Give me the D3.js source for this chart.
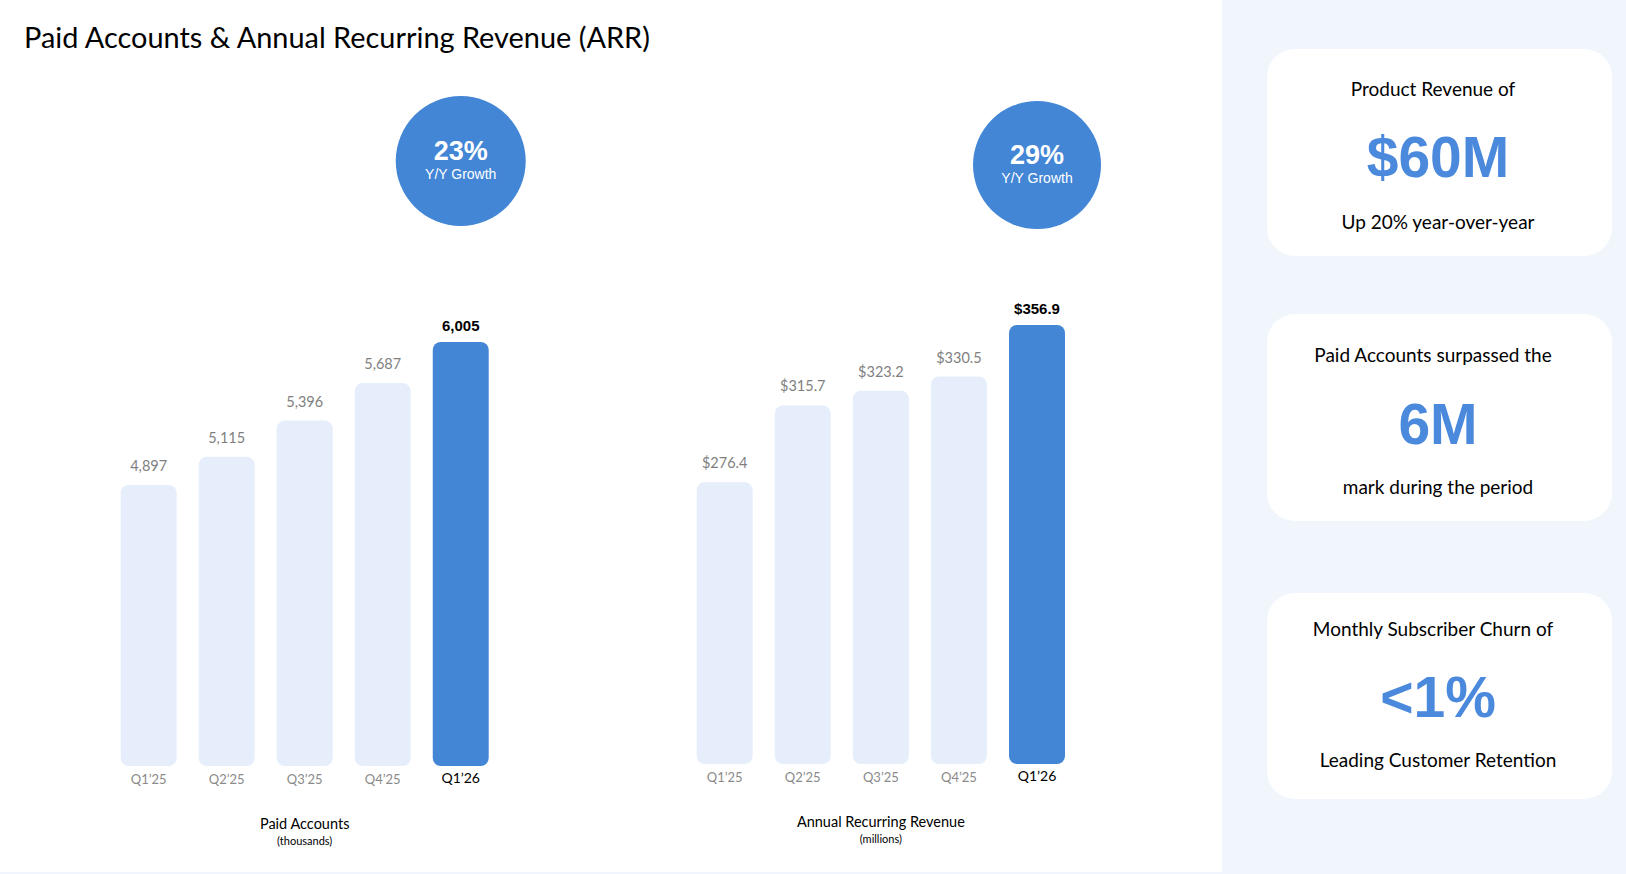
<!DOCTYPE html>
<html>
<head>
<meta charset="utf-8">
<script src="https://cdn.jsdelivr.net/npm/d3@7"></script>
<style>
  body { margin: 0; background: #fff; }
  svg { display: block; }
</style>
</head>
<body>
<div id="chart"></div>
<script>
// data
var quarters = ["Q1’25", "Q2’25", "Q3’25", "Q4’25", "Q1’26"];
var paidAccounts = [4897, 5115, 5396, 5687, 6005];
var arrValues = [276.4, 315.7, 323.2, 330.5, 356.9];
var growthLabels = ["23%", "29%"];
var chartTitles = ["Paid Accounts", "Annual Recurring Revenue"];
var chartUnits = ["(thousands)", "(millions)"];
var cardTitles = ["Product Revenue of", "Paid Accounts surpassed the", "Monthly Subscriber Churn of"];
var cardHighlights = ["$60M", "6M", "<1%"];
var cardNotes = ["Up 20% year-over-year", "mark during the period", "Leading Customer Retention"];

var W = 1626, H = 874;
var blue = "#4386d6", lightBlue = "#e5eefa", panelBg = "#f1f6fd";
var sans = "Lato, 'Open Sans', sans-serif";
var arial = "'Liberation Sans', Arial, sans-serif";

var svg = d3.select("#chart").append("svg")
    .attr("width", W)
    .attr("height", H);

// right side panel + bottom strip
svg.append("rect").attr("x", 1222).attr("y", 0).attr("width", W - 1222).attr("height", H).attr("fill", panelBg);
svg.append("rect").attr("x", 0).attr("y", 872).attr("width", W).attr("height", 2).attr("fill", panelBg);

svg.append("text")
    .attr("x", 24).attr("y", 48)
    .style("font-family", sans).style("font-size", "28.9px")
    .style("fill", "#000")
    .text("Paid Accounts & Annual Recurring Revenue (ARR)");

// one bar chart per metric
var charts = [
    { values: paidAccounts, fmt: d3.format(","), range: [120.7, 488.7], bottom: 766, domain: [2720, 6005], top: 342,
      circleY: 161, r: 65 },
    { values: arrValues, fmt: function (d) { return "$" + d3.format(".1f")(d); }, range: [696.7, 1065], bottom: 764, domain: [132, 356.9], top: 325,
      circleY: 165, r: 64 }
];

charts.forEach(function (c, ci) {
    var x = d3.scaleBand()
        .domain(quarters)
        .range(c.range)
        .paddingInner(0.283)
        .paddingOuter(0);

    var y = d3.scaleLinear()
        .domain(c.domain)
        .range([c.bottom, c.top]);

    var g = svg.append("g");
    var last = quarters.length - 1;

    g.selectAll("rect.bar")
        .data(c.values).enter()
        .append("rect")
        .attr("class", "bar")
        .attr("x", function (d, i) { return x(quarters[i]); })
        .attr("y", function (d) { return y(d); })
        .attr("width", x.bandwidth())
        .attr("height", function (d) { return c.bottom - y(d); })
        .attr("rx", 8)
        .attr("fill", function (d, i) { return i == last ? blue : lightBlue; });

    // value labels
    g.selectAll("text.val")
        .data(c.values).enter()
        .append("text")
        .attr("class", "val")
        .attr("x", function (d, i) { return x(quarters[i]) + x.bandwidth() / 2; })
        .attr("y", function (d, i) { return y(d) - (i == last ? 11 : 14); })
        .attr("text-anchor", "middle")
        .style("font-family", function (d, i) { return i == last ? arial : sans; })
        .style("font-weight", function (d, i) { return i == last ? "bold" : "normal"; })
        .style("font-size", function (d, i) { return i == last ? "15px" : "14.5px"; })
        .style("fill", function (d, i) { return i == last ? "#000" : "#7f7f7f"; })
        .text(function (d) { return c.fmt(d); });

    // quarter labels
    g.selectAll("text.cat")
        .data(quarters).enter()
        .append("text")
        .attr("class", "cat")
        .attr("x", function (d) { return x(d) + x.bandwidth() / 2; })
        .attr("y", function (d, i) { return c.bottom + (i == last ? 16.5 : 18); })
        .attr("text-anchor", "middle")
        .style("font-family", sans)
        .style("font-size", function (d, i) { return i == last ? "14px" : "13px"; })
        .style("fill", function (d, i) { return i == last ? "#000" : "#8a8a8a"; })
        .text(function (d) { return d; });

    var cx = (c.range[0] + c.range[1]) / 2;
    g.append("text")
        .attr("x", cx).attr("y", c.bottom + 63)
        .attr("text-anchor", "middle")
        .style("font-family", sans).style("font-size", "14.5px").style("fill", "#000")
        .text(chartTitles[ci]);
    g.append("text")
        .attr("x", cx).attr("y", c.bottom + 79)
        .attr("text-anchor", "middle")
        .style("font-family", sans).style("font-size", "11px").style("fill", "#000")
        .text(chartUnits[ci]);

    // growth bubble over the latest bar
    var bx = x(quarters[last]) + x.bandwidth() / 2;
    g.append("circle")
        .attr("cx", bx).attr("cy", c.circleY).attr("r", c.r)
        .attr("fill", blue);
    g.append("text")
        .attr("x", bx).attr("y", c.circleY - 1)
        .attr("text-anchor", "middle")
        .style("font-family", arial).style("font-weight", "bold").style("font-size", "27px").style("fill", "#fff")
        .text(growthLabels[ci]);
    g.append("text")
        .attr("x", bx).attr("y", c.circleY + 18)
        .attr("text-anchor", "middle")
        .style("font-family", arial).style("font-size", "14px").style("fill", "#fff")
        .text("Y/Y Growth");
});

// KPI cards
var cardTops = [49, 314, 593];
var cardHeights = [207, 207, 206];
var titleY = [96, 362, 636];
var highlightY = [177, 444, 717];
var noteY = [229, 494, 767];
var cardX = 1267, cardW = 345;

svg.selectAll("rect.card")
    .data(cardTitles).enter()
    .append("rect")
    .attr("class", "card")
    .attr("x", cardX)
    .attr("y", function (d, i) { return cardTops[i]; })
    .attr("width", cardW)
    .attr("height", function (d, i) { return cardHeights[i]; })
    .attr("rx", 28)
    .attr("fill", "#fff");

svg.selectAll("text.ctitle")
    .data(cardTitles).enter()
    .append("text")
    .attr("class", "ctitle")
    .attr("x", 1433)
    .attr("y", function (d, i) { return titleY[i]; })
    .attr("text-anchor", "middle")
    .style("font-family", sans).style("font-size", "19px").style("fill", "#000")
    .text(function (d) { return d; });

svg.selectAll("text.chigh")
    .data(cardHighlights).enter()
    .append("text")
    .attr("class", "chigh")
    .attr("x", 1438)
    .attr("y", function (d, i) { return highlightY[i]; })
    .attr("text-anchor", "middle")
    .style("font-family", arial).style("font-weight", "bold").style("font-size", "57px").style("fill", "#4a89dc")
    .text(function (d) { return d; });

svg.selectAll("text.cnote")
    .data(cardNotes).enter()
    .append("text")
    .attr("class", "cnote")
    .attr("x", 1438)
    .attr("y", function (d, i) { return noteY[i]; })
    .attr("text-anchor", "middle")
    .style("font-family", sans).style("font-size", "19px").style("fill", "#000")
    .text(function (d) { return d; });
</script>
</body>
</html>
